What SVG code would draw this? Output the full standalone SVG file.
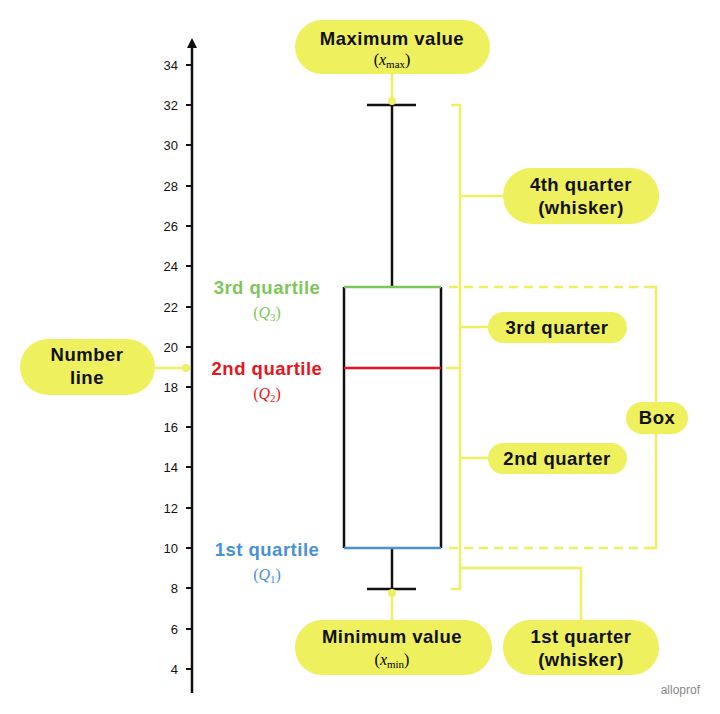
<svg xmlns="http://www.w3.org/2000/svg" width="720" height="714" viewBox="0 0 720 714">
<style>
.pill{fill:#eef05e}
.y{stroke:#eef062;stroke-width:2.5;fill:none}
.yd{stroke:#eef062;stroke-width:2.5;fill:none;stroke-dasharray:9 6}
.t{font-family:"Liberation Sans",Arial,sans-serif;font-weight:bold;font-size:18.5px;letter-spacing:0.5px;fill:#111;text-anchor:middle}
.m{font-family:"Liberation Serif",serif;font-size:16px;text-anchor:middle}
.n{font-family:"Liberation Sans",Arial,sans-serif;font-size:13px;fill:#111;text-anchor:end}
.k{stroke:#111;stroke-width:2.5;fill:none}
</style>
<rect width="720" height="714" fill="#fff"/>
<g id="axis">
<line x1="192" y1="693" x2="192" y2="46" class="k" stroke-width="2"/>
<path d="M192 38 L187 48 L197 48Z" fill="#111"/>
<g stroke="#111" stroke-width="2">
<line x1="186" y1="65" x2="192" y2="65"/><line x1="186" y1="105" x2="192" y2="105"/><line x1="186" y1="145" x2="192" y2="145"/><line x1="186" y1="186" x2="192" y2="186"/><line x1="186" y1="226" x2="192" y2="226"/><line x1="186" y1="266" x2="192" y2="266"/><line x1="186" y1="307" x2="192" y2="307"/><line x1="186" y1="347" x2="192" y2="347"/><line x1="186" y1="387" x2="192" y2="387"/><line x1="186" y1="427" x2="192" y2="427"/><line x1="186" y1="467" x2="192" y2="467"/><line x1="186" y1="508" x2="192" y2="508"/><line x1="186" y1="548" x2="192" y2="548"/><line x1="186" y1="588" x2="192" y2="588"/><line x1="186" y1="629" x2="192" y2="629"/><line x1="186" y1="669" x2="192" y2="669"/>
</g>
<g class="n">
<text x="178" y="70">34</text><text x="178" y="110">32</text><text x="178" y="150">30</text><text x="178" y="191">28</text><text x="178" y="231">26</text><text x="178" y="271">24</text><text x="178" y="312">22</text><text x="178" y="352">20</text><text x="178" y="392">18</text><text x="178" y="432">16</text><text x="178" y="472">14</text><text x="178" y="513">12</text><text x="178" y="553">10</text><text x="178" y="593">8</text><text x="178" y="634">6</text><text x="178" y="674">4</text>
</g>
</g>
<g id="boxplot">
<line x1="392" y1="105" x2="392" y2="287" class="k"/>
<line x1="367" y1="105" x2="416" y2="105" class="k"/>
<line x1="392" y1="548" x2="392" y2="589" class="k"/>
<line x1="367" y1="589" x2="416" y2="589" class="k"/>
<path d="M344 287 V548 M441 287 V548" class="k"/>
<line x1="344" y1="287" x2="441" y2="287" stroke="#7dc75a" stroke-width="2.5"/>
<line x1="344" y1="368" x2="441" y2="368" stroke="#e8141b" stroke-width="2.5"/>
<line x1="344" y1="548" x2="441" y2="548" stroke="#4a90d6" stroke-width="2.5"/>
</g>
<g id="connectors">
<line x1="392" y1="74" x2="392" y2="101" class="y"/><circle cx="392" cy="101" r="4" fill="#eef062"/>
<line x1="392" y1="593" x2="392" y2="620" class="y"/><circle cx="392" cy="593" r="4" fill="#eef062"/>
<line x1="155" y1="368" x2="186" y2="368" class="y"/><circle cx="186" cy="368" r="4" fill="#eef062"/>
<path d="M451 105 H460 V589 H451" class="y"/>
<line x1="446" y1="368" x2="460" y2="368" class="y"/>
<line x1="460" y1="196" x2="503" y2="196" class="y"/>
<line x1="460" y1="327" x2="488" y2="327" class="y"/>
<line x1="460" y1="458" x2="488" y2="458" class="y"/>
<path d="M460 568 H581 V620" class="y"/>
<line x1="449" y1="287" x2="656" y2="287" class="yd"/>
<line x1="449" y1="548" x2="656" y2="548" class="yd"/>
<path d="M650 287 H656 V548 H650" class="y"/>
</g>
<g id="q3"><text x="267" y="294" class="t" style="fill:#7dc75a">3rd quartile</text><text x="267" y="318" class="m" fill="#7dc75a"><tspan>(</tspan><tspan font-style="italic">Q</tspan><tspan font-size="11" dy="3">3</tspan><tspan dy="-3">)</tspan></text></g>
<g id="q2"><text x="267" y="375" class="t" style="fill:#e8141b">2nd quartile</text><text x="267" y="399" class="m" fill="#e8141b"><tspan>(</tspan><tspan font-style="italic">Q</tspan><tspan font-size="11" dy="3">2</tspan><tspan dy="-3">)</tspan></text></g>
<g id="q1"><text x="267" y="556" class="t" style="fill:#4a90d6">1st quartile</text><text x="267" y="580" class="m" fill="#4a90d6"><tspan>(</tspan><tspan font-style="italic">Q</tspan><tspan font-size="11" dy="3">1</tspan><tspan dy="-3">)</tspan></text></g>
<g id="max"><rect x="295" y="20" width="195" height="54" rx="27" class="pill"/><text x="392" y="45" class="t">Maximum value</text><text x="392" y="65" class="m">(<tspan font-style="italic">x</tspan><tspan font-size="11" dy="3">max</tspan><tspan dy="-3">)</tspan></text></g>
<g id="min"><rect x="295" y="620" width="197" height="55" rx="27" class="pill"/><text x="392" y="643" class="t">Minimum value</text><text x="392" y="665" class="m">(<tspan font-style="italic">x</tspan><tspan font-size="11" dy="3">min</tspan><tspan dy="-3">)</tspan></text></g>
<g id="numberline"><rect x="20" y="339" width="135" height="56" rx="28" class="pill"/><text x="87" y="361" class="t">Number</text><text x="87" y="384" class="t">line</text></g>
<g id="fourth"><rect x="503" y="168" width="156" height="56" rx="28" class="pill"/><text x="581" y="191" class="t">4th quarter</text><text x="581" y="214" class="t">(whisker)</text></g>
<g id="third"><rect x="488" y="312" width="139" height="31" rx="15.5" class="pill"/><text x="557" y="334" class="t">3rd quarter</text></g>
<g id="second"><rect x="488" y="443" width="139" height="31" rx="15.5" class="pill"/><text x="557" y="465" class="t">2nd quarter</text></g>
<g id="box"><rect x="626" y="402" width="62" height="32" rx="16" class="pill"/><text x="657" y="424" class="t">Box</text></g>
<g id="first"><rect x="503" y="620" width="156" height="55" rx="27" class="pill"/><text x="581" y="643" class="t">1st quarter</text><text x="581" y="666" class="t">(whisker)</text></g>
<text x="700" y="694" font-family="Liberation Sans,Arial,sans-serif" font-size="12" fill="#888" text-anchor="end">alloprof</text>
</svg>
